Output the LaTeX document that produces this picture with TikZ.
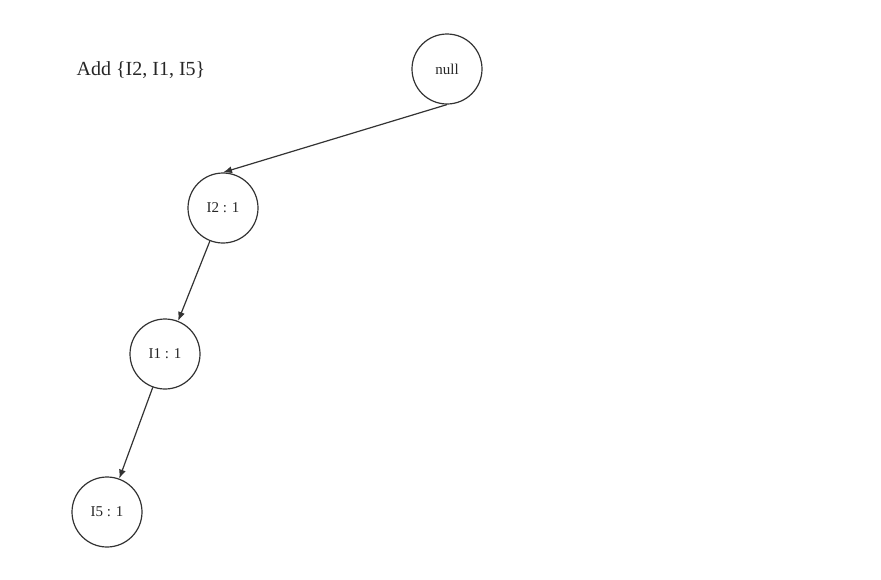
\documentclass[tikz,border=0pt]{standalone}
\usepackage{fontspec}
\setmainfont{Liberation Serif}
\usetikzlibrary{arrows.meta}
\begin{document}
\begin{tikzpicture}[x=1pt,y=-1pt,
  tn/.style={circle,draw=black!80,line width=1.2pt,minimum size=70pt,inner sep=0pt,font=\fontsize{15}{18}\selectfont,text=black!85},
  ed/.style={draw=black!80,line width=1.2pt,-{Latex[length=9pt,width=7pt]}}]
\useasboundingbox (0,0) rectangle (881,579);
\node[font=\fontsize{20}{24}\selectfont,text=black!85] (t) at (141,70) {Add \{I2, I1, I5\}};
\node[tn] (n) at (447,69) {null};
\node[tn] (a) at (223,208) {I2 : 1};
\node[tn] (b) at (165,354) {I1 : 1};
\node[tn] (c) at (107,512) {I5 : 1};
\draw[ed] (n.south) -- (a.north);
\draw[ed] (a) -- (b);
\draw[ed] (b) -- (c);
\end{tikzpicture}
\end{document}
